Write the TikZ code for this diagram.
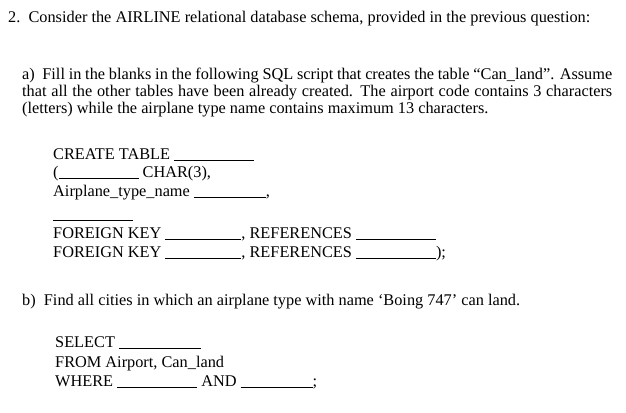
\documentclass[tikz,border=0pt]{standalone}
\usepackage{fontspec}
\setmainfont{Liberation Serif}
\newcommand{\blank}[1]{\rule[-1.5pt]{#1pt}{0.6pt}}
\begin{document}
\begin{tikzpicture}[x=1pt,y=-1pt,t/.style={anchor=base west,inner sep=0pt,font=\fontsize{16.3}{18}\selectfont}]
\useasboundingbox (0,0) rectangle (626,412);
\node[t] (l1) at (8,23) {2.\ \ Consider the AIRLINE relational database schema, provided in the previous question:};
\node[t] (a1) at (22,79) {\makebox[590pt][s]{a)\ \ Fill in the blanks in the following SQL script that creates the table “Can\_land”. Assume}};
\node[t] (a2) at (22,96) {\makebox[590pt][s]{that all the other tables have been already created. The airport code contains 3 characters}};
\node[t] (a3) at (22,113) {(letters) while the airplane type name contains maximum 13 characters.};
\node[t] (c1) at (53,159) {CREATE TABLE \blank{80}};
\node[t] (c2) at (53,177) {(\blank{80} CHAR(3),};
\node[t] (c3) at (53,196) {Airplane\_type\_name \blank{72},};
\node[t] (c4) at (53,219) {\blank{80}};
\node[t] (c5) at (53,238) {FOREIGN KEY \blank{76}, REFERENCES \blank{80}};
\node[t] (c6) at (53,257) {FOREIGN KEY \blank{76}, REFERENCES \blank{80});};
\node[t] (b1) at (22,305) {b)\ \ Find all cities in which an airplane type with name ‘Boing 747’ can land.};
\node[t] (s1) at (55,347) {SELECT \blank{82}};
\node[t] (s2) at (55,367) {FROM Airport, Can\_land};
\node[t] (s3) at (55,386) {WHERE \blank{80} AND \blank{72};};
\end{tikzpicture}
\end{document}
